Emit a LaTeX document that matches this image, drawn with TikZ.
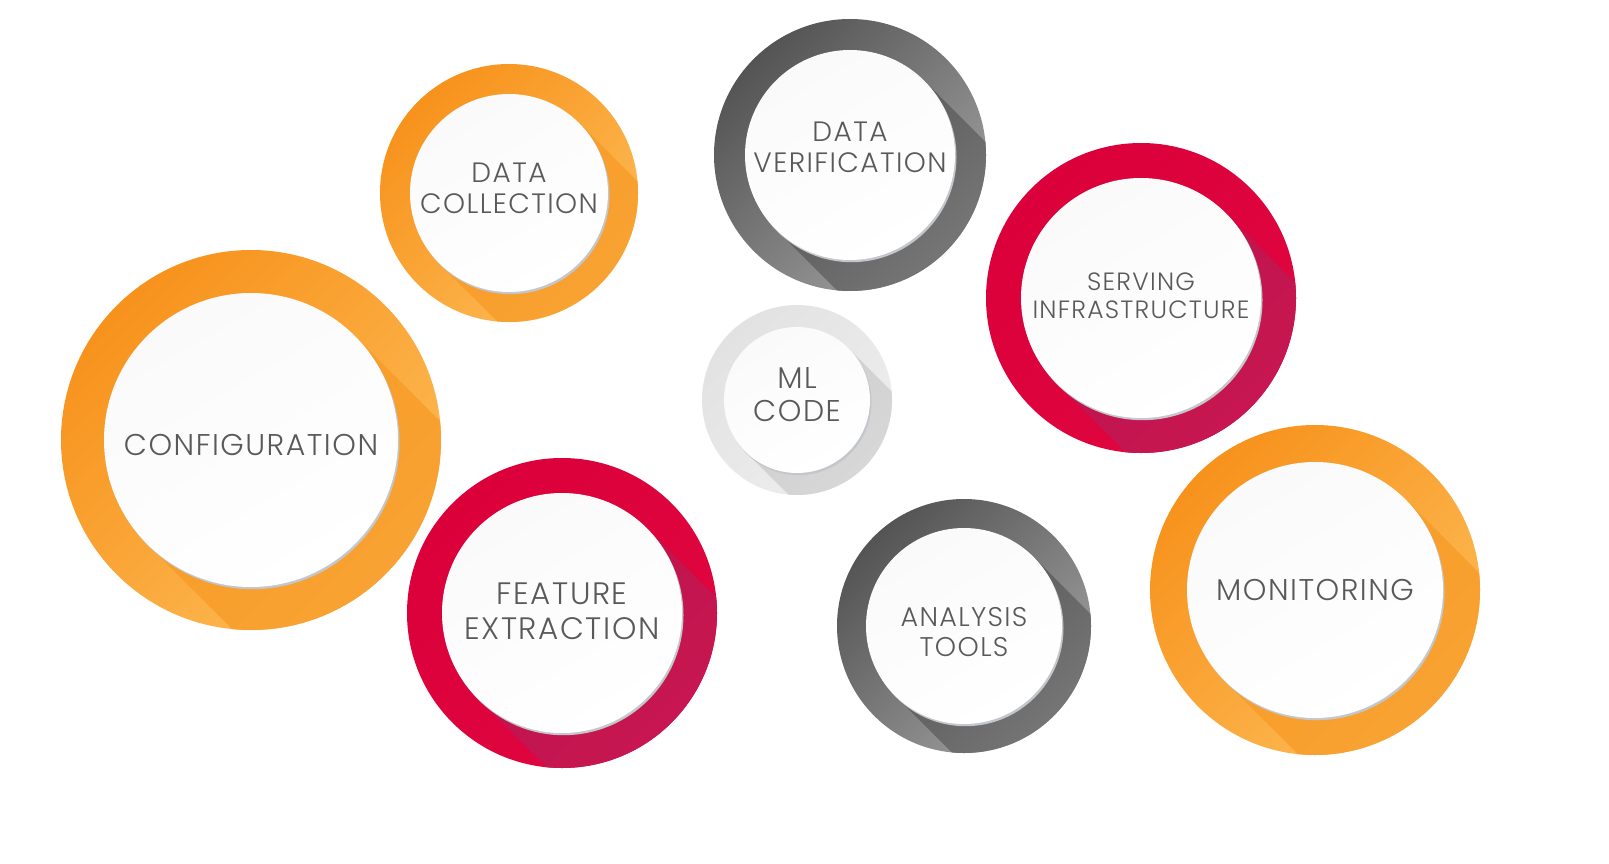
\documentclass[tikz,border=0pt]{standalone}
\usepackage{fontspec}
\setmainfont{Poppins}[UprightFont=* Light, LetterSpace=5]
% colour schemes
\definecolor{orA}{HTML}{F7921C}\definecolor{orB}{HTML}{FDBB55}
\definecolor{orS}{HTML}{F79C28}\definecolor{orT}{HTML}{FBB04A}
\definecolor{rdA}{HTML}{DB003A}\definecolor{rdB}{HTML}{E0063F}
\definecolor{rdS}{HTML}{BF144E}\definecolor{rdT}{HTML}{D81B57}
\definecolor{gyA}{HTML}{545454}\definecolor{gyB}{HTML}{A0A0A0}
\definecolor{gyS}{HTML}{5C5C5C}\definecolor{gyT}{HTML}{A8A8A8}
\definecolor{ltA}{HTML}{E2E2E2}\definecolor{ltB}{HTML}{EEEEEE}
\definecolor{ltS}{HTML}{CFCFCF}\definecolor{ltT}{HTML}{E8E8E8}
\definecolor{txt}{HTML}{58595B}
\definecolor{rim}{HTML}{C3C6CB}
\tikzset{
  disc/.style={circle, inner sep=0pt,
    top color=white!96!gray, bottom color=white, shading angle=30},
  caption/.style={inner sep=0pt, align=center, text=txt},
}
\newcommand\bubble[9]{% name, cx, cy, R, r, scheme, fontsize, text, text offset
  \pgfmathsetmacro\dd{#5*0.7071}
  \pgfmathsetmacro\LL{2.2*#4}
  \pgfmathsetmacro\dia{2*#5}
  \pgfmathsetmacro\bls{#7*1.12}
  \shade[top color=#6A, bottom color=#6B, shading angle=45] (#2,#3) circle[radius=#4];
  \begin{scope}
    \clip (#2,#3) circle[radius=#4];
    \shade[top color=#6S, bottom color=#6T, shading angle=45]
      (#2+\dd,#3-\dd) -- (#2+\dd+\LL,#3-\dd+\LL) -- (#2-\dd+\LL,#3+\dd+\LL) -- (#2-\dd,#3+\dd) -- cycle;
  \end{scope}
  \fill[rim] (#2+1.5,#3+2.2) circle[radius=#5];
  \node[disc, minimum size=\dia pt] (#1) at (#2,#3) {};
  \node[caption, font=\fontsize{#7}{\bls}\selectfont] (#1 text) at (#2,#3+#9) {#8};
}
\begin{document}
\begin{tikzpicture}[x=1pt,y=-1pt]
\fill[white] (0,0) rectangle (1609,864);
\bubble{config}{251}{440}{190}{147}{or}{30}{CONFIGURATION}{5}
\bubble{collect}{509}{193}{129}{99}{or}{28}{DATA\\COLLECTION}{-5}
\bubble{verif}{850}{155}{136}{105}{gy}{28}{DATA\\VERIFICATION}{-8}
\bubble{serving}{1141}{298}{155}{120}{rd}{25}{SERVING\\INFRASTRUCTURE}{-2.5}
\bubble{mlcode}{797}{400}{95}{73}{lt}{30}{ML\\CODE}{-5.5}
\bubble{feature}{562}{613}{155}{120}{rd}{31}{FEATURE\\EXTRACTION}{-2}
\bubble{analysis}{964}{626}{127}{98}{gy}{27}{ANALYSIS\\TOOLS}{6}
\bubble{monitor}{1315}{590}{165}{128}{or}{30}{MONITORING}{0}
\pgfresetboundingbox
\path[use as bounding box] (0,0) rectangle (1609,864);
\end{tikzpicture}
\end{document}
